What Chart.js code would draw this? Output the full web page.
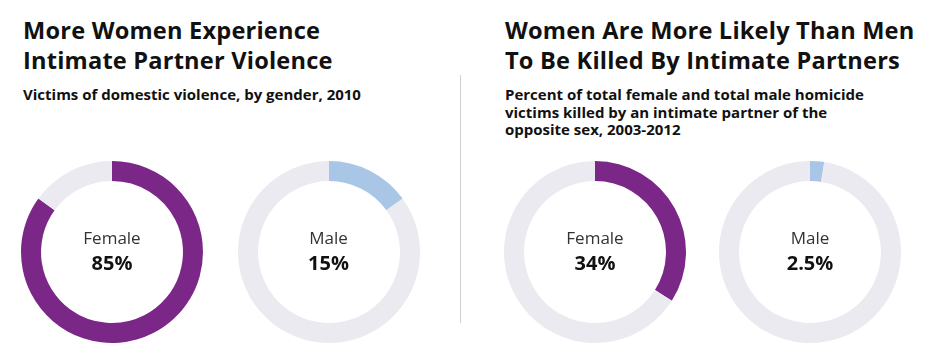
<!DOCTYPE html>
<html><head><meta charset="utf-8">
<script src="https://cdn.jsdelivr.net/npm/chart.js@4/dist/chart.umd.min.js"></script>
<style>
html,body{margin:0;padding:0;background:#fff;}
body{width:942px;height:357px;position:relative;overflow:hidden;font-family:"Open Sans",sans-serif;color:#111;}
.title{position:absolute;font-weight:700;font-size:23.6px;line-height:30px;letter-spacing:0.2px;color:#111;}
.sub{position:absolute;font-weight:700;font-size:15px;line-height:17.7px;color:#111;}
.divider{position:absolute;left:460px;top:75px;width:1px;height:248px;background:#cdd3cd;}
.box{position:absolute;width:200px;height:200px;}
.box canvas{position:absolute;left:0;top:0;}
.ctr{position:absolute;left:0;width:200px;text-align:center;}
.lab{top:74px;font-size:17px;font-weight:400;color:#333;}
.val{top:97px;font-size:20px;font-weight:700;color:#111;}
</style></head>
<body>
<div class="title" style="left:23px;top:15px;">More Women Experience<br>Intimate Partner Violence</div>
<div class="sub" style="left:23px;top:86px;">Victims of domestic violence, by gender, 2010</div>
<div class="title" style="left:505px;top:15px;">Women Are More Likely Than Men<br>To Be Killed By Intimate Partners</div>
<div class="sub" style="left:505px;top:86px;">Percent of total female and total male homicide<br>victims killed by an intimate partner of the<br>opposite sex, 2003-2012</div>
<div class="divider"></div>
<div id="charts"></div>
<script>
// Data
const categories = ['Female', 'Male', 'Female', 'Male'];
const values = [85, 15, 34, 2.5];
const valueLabels = ['85%', '15%', '34%', '2.5%'];
const remainderLabel = 'Other';

// Layout / style (kept separate from data)
const centersX = [112, 328.5, 595, 810];
const centerY = 252;
const fillColors = {Female: '#7b2787', Male: '#a9c6e6'};
const restColor = '#eaeaf0';

const host = document.getElementById('charts');
categories.forEach((cat, i) => {
  const box = document.createElement('div');
  box.className = 'box';
  box.style.left = (centersX[i] - 100) + 'px';
  box.style.top = (centerY - 100) + 'px';
  const cv = document.createElement('canvas');
  cv.width = 200; cv.height = 200;
  cv.style.width = '200px'; cv.style.height = '200px';
  box.appendChild(cv);
  const l = document.createElement('div'); l.className = 'ctr lab'; l.textContent = cat; box.appendChild(l);
  const v = document.createElement('div'); v.className = 'ctr val'; v.textContent = valueLabels[i]; box.appendChild(v);
  host.appendChild(box);
  new Chart(cv, {
    type: 'doughnut',
    data: {
      labels: [cat, remainderLabel],
      datasets: [{
        data: [values[i], 100 - values[i]],
        backgroundColor: [fillColors[cat], restColor],
        borderWidth: 0,
        hoverOffset: 0,
        offset: 0
      }]
    },
    options: {
      responsive: false,
      animation: false,
      radius: 91,
      cutout: 78,
      layout: {padding: 0},
      plugins: {legend: {display: false}, tooltip: {enabled: false}}
    }
  });
});
</script>
</body></html>
